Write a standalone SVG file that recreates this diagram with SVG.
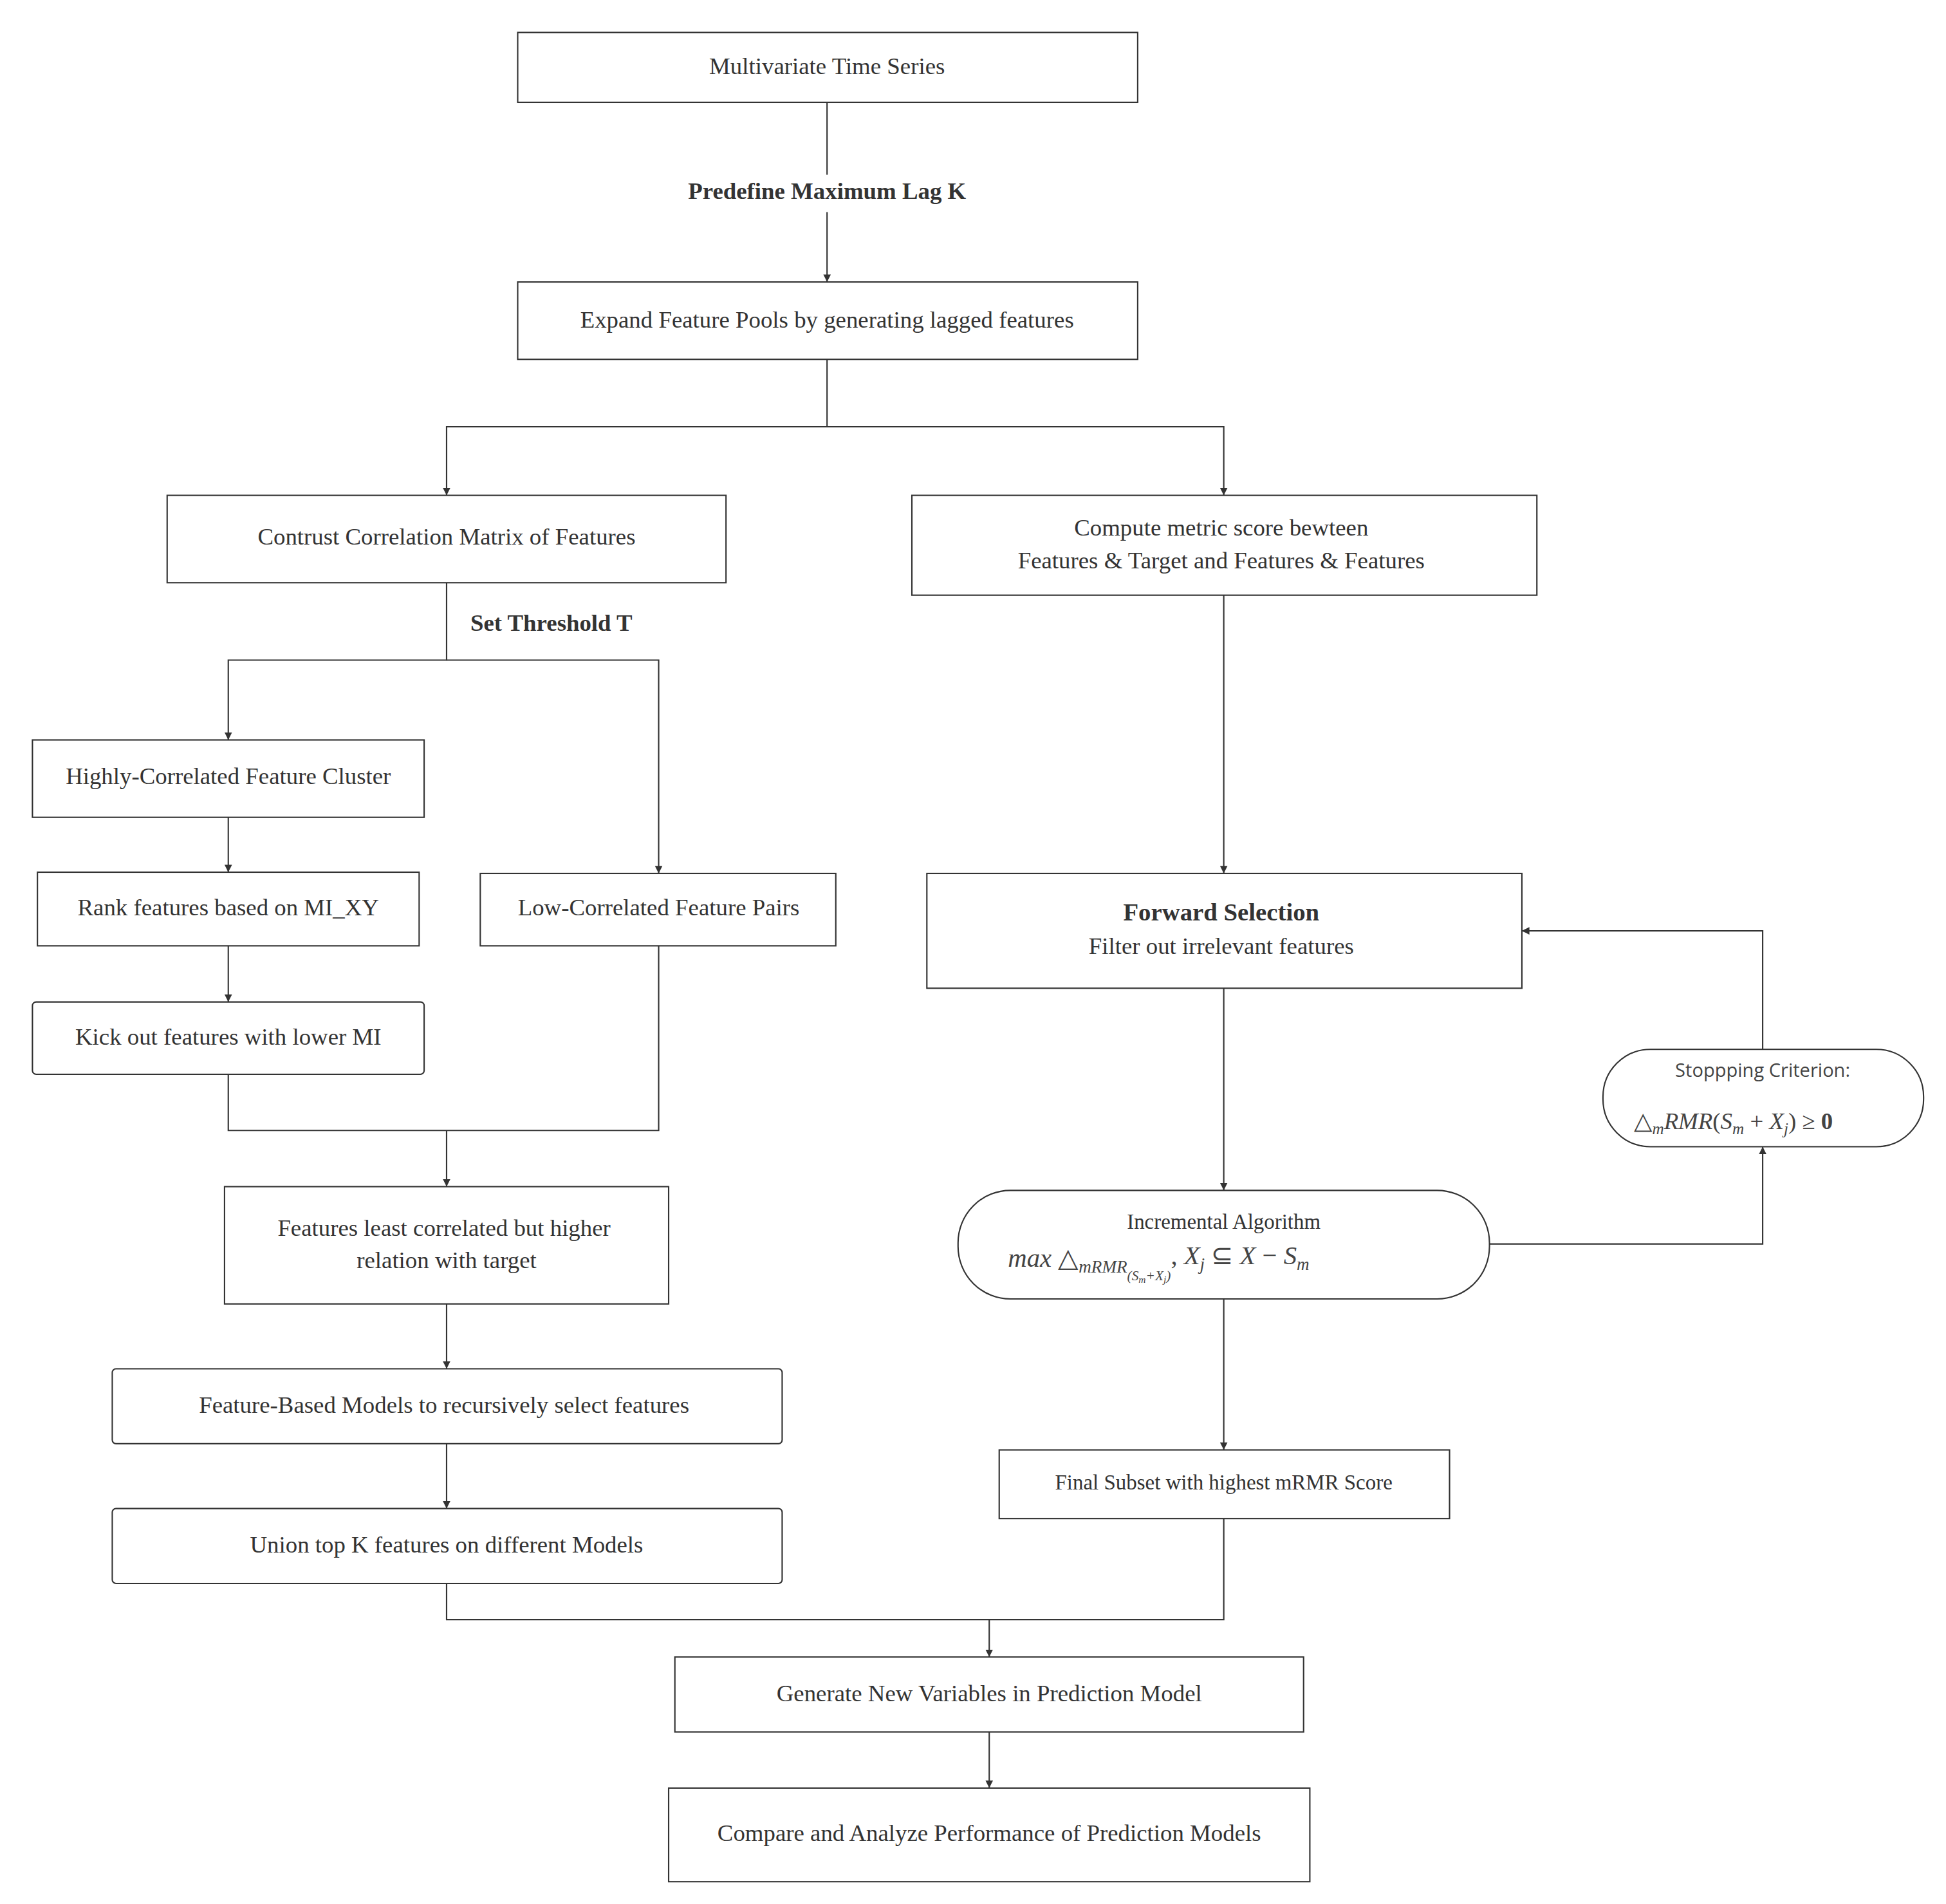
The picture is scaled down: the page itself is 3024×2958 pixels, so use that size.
<svg xmlns="http://www.w3.org/2000/svg" width="3024" height="2958" viewBox="0 0 3024 2958">
<style>
.b{fill:#fff;stroke:#333;stroke-width:1.1}
.t{font-family:"Liberation Serif",serif;font-size:19px;fill:#333;text-anchor:middle;dominant-baseline:middle}
.bd{font-weight:bold}
.c{fill:none;stroke:#333;stroke-width:1.1}
.m{font-family:"Liberation Serif",serif;font-style:italic;fill:#444;font-size:21px}
</style>
<defs><marker id="a" viewBox="0 0 10 10" refX="10" refY="5" markerWidth="6" markerHeight="7" orient="auto" markerUnits="userSpaceOnUse"><path d="M0,0L10,5L0,10z" fill="#333"/></marker></defs>
<rect width="3024" height="2958" fill="#fff"/>
<g transform="scale(1.9385)">
<g id="connectors">
<path class="c" d="M663,82V140M663,170V226" marker-end="url(#a)"/>
<path class="c" d="M663,288V342H358V397" marker-end="url(#a)"/>
<path class="c" d="M663,342H981V397" marker-end="url(#a)"/>
<path class="c" d="M358,467V529H183V593" marker-end="url(#a)"/>
<path class="c" d="M358,529H528V700" marker-end="url(#a)"/>
<path class="c" d="M183,655V699" marker-end="url(#a)"/>
<path class="c" d="M183,758V803" marker-end="url(#a)"/>
<path class="c" d="M183,861V906H528V758M358,906V951" marker-end="url(#a)"/>
<path class="c" d="M358,1045V1097" marker-end="url(#a)"/>
<path class="c" d="M358,1157V1209" marker-end="url(#a)"/>
<path class="c" d="M358,1269V1298H981V1217M793,1298V1328" marker-end="url(#a)"/>
<path class="c" d="M793,1388V1433" marker-end="url(#a)"/>
<path class="c" d="M981,477V700" marker-end="url(#a)"/>
<path class="c" d="M981,792V954" marker-end="url(#a)"/>
<path class="c" d="M981,1041V1162" marker-end="url(#a)"/>
<path class="c" d="M1194,997H1413V919" marker-end="url(#a)"/>
<path class="c" d="M1413,841V746H1220" marker-end="url(#a)"/>
<text class="t bd" x="663" y="155">Predefine Maximum Lag K</text>
<text class="t bd" x="442" y="501">Set Threshold T</text>
</g>
<g id="n1"><rect class="b" x="415" y="26" width="497" height="56"/><text class="t" x="663" y="55">Multivariate Time Series</text></g>
<g id="n2"><rect class="b" x="415" y="226" width="497" height="62"/><text class="t" x="663" y="258">Expand Feature Pools by generating lagged features</text></g>
<g id="n3"><rect class="b" x="134" y="397" width="448" height="70"/><text class="t" x="358" y="432">Contrust Correlation Matrix of Features</text></g>
<g id="n4"><rect class="b" x="731" y="397" width="501" height="80"/><text class="t" x="979" y="425">Compute metric score bewteen</text><text class="t" x="979" y="451">Features &amp; Target and Features &amp; Features</text></g>
<g id="n5"><rect class="b" x="26" y="593" width="314" height="62"/><text class="t" x="183" y="624">Highly-Correlated Feature Cluster</text></g>
<g id="n6"><rect class="b" x="30" y="699" width="306" height="59"/><text class="t" x="183" y="729">Rank features based on MI_XY</text></g>
<g id="n7"><rect class="b" x="385" y="700" width="285" height="58"/><text class="t" x="528" y="729">Low-Correlated Feature Pairs</text></g>
<g id="n8"><rect class="b" x="26" y="803" width="314" height="58" rx="3"/><text class="t" x="183" y="833">Kick out features with lower MI</text></g>
<g id="n9"><rect class="b" x="180" y="951" width="356" height="94"/><text class="t" x="356" y="986">Features least correlated but higher</text><text class="t" x="358" y="1012">relation with target</text></g>
<g id="n10"><rect class="b" x="90" y="1097" width="537" height="60" rx="3"/><text class="t" x="356" y="1128">Feature-Based Models to recursively select features</text></g>
<g id="n11"><rect class="b" x="90" y="1209" width="537" height="60" rx="3"/><text class="t" x="358" y="1240">Union top K features on different Models</text></g>
<g id="n12"><rect class="b" x="541" y="1328" width="504" height="60"/><text class="t" x="793" y="1359">Generate New Variables in Prediction Model</text></g>
<g id="n13"><rect class="b" x="536" y="1433" width="514" height="75"/><text class="t" x="793" y="1471">Compare and Analyze Performance of Prediction Models</text></g>
<g id="n14"><rect class="b" x="743" y="700" width="477" height="92"/><text class="t bd" x="979" y="733" style="font-size:20px">Forward Selection</text><text class="t" x="979" y="760">Filter out irrelevant features</text></g>
<g id="n15"><rect class="b" x="768" y="954" width="426" height="87" rx="42"/><text class="t" x="981" y="981" style="font-size:17px">Incremental Algorithm</text>
<text class="m" x="808" y="1015">max <tspan font-style="normal">△</tspan><tspan font-size="14" dy="5">mRMR</tspan><tspan font-size="11" dy="6">(S</tspan><tspan font-size="8" dy="2">m</tspan><tspan font-size="11" dy="-2">+X</tspan><tspan font-size="8" dy="2">j</tspan><tspan font-size="11" dy="-2">)</tspan><tspan font-style="normal" dy="-13">, </tspan>X<tspan font-size="14" dy="5">j</tspan><tspan font-style="normal" dy="-5"> ⊆  </tspan>X <tspan font-style="normal">− </tspan>S<tspan font-size="14" dy="5">m</tspan></text></g>
<g id="n16"><rect class="b" x="801" y="1162" width="361" height="55"/><text class="t" x="981" y="1190" style="font-size:17px">Final Subset with highest mRMR Score</text></g>
<g id="n17"><rect class="b" x="1285" y="841" width="257" height="78" rx="38"/><text class="t" x="1413" y="859" style="font-family:'Open Sans',sans-serif;font-size:15px;fill:#444">Stoppping Criterion:</text>
<text class="m" x="1310" y="905" style="font-size:19px"><tspan font-style="normal">△</tspan><tspan font-size="13" dy="4">m</tspan><tspan dy="-4">RMR</tspan><tspan font-style="normal">(</tspan>S<tspan font-size="13" dy="4">m</tspan><tspan font-style="normal" dy="-4"> + </tspan>X<tspan font-size="13" dy="4">j</tspan><tspan font-style="normal" dy="-4">) ≥ </tspan><tspan font-style="normal" font-weight="bold">0</tspan></text></g>
</g>
</svg>
